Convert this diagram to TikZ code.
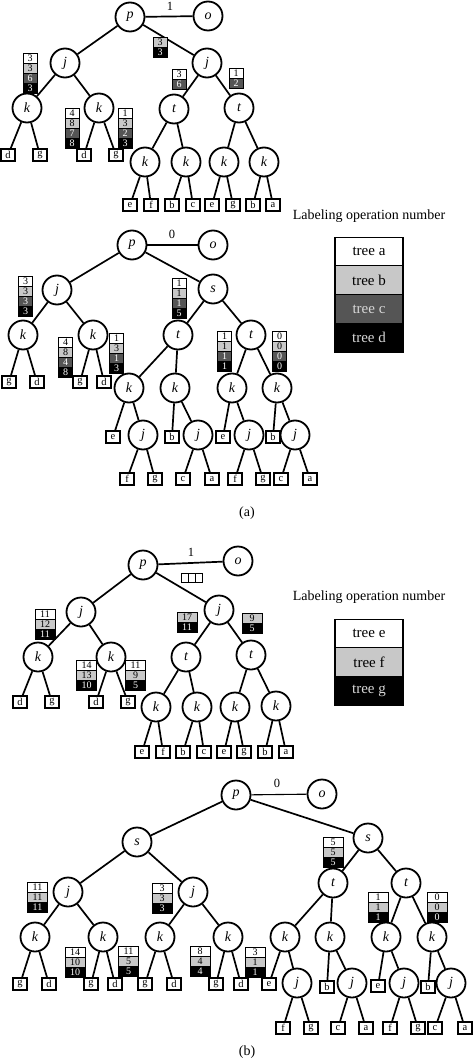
\documentclass[tikz,border=0pt]{standalone}
\usepackage{fontspec}
\setmainfont{Liberation Serif}
\definecolor{lg}{RGB}{200,200,200}
\definecolor{dg}{RGB}{85,85,85}
\definecolor{lgt}{RGB}{215,215,215}
\tikzset{
  vtx/.style={circle, draw, fill=white, line width=1.8pt, minimum size=29pt, inner sep=0pt, font=\fontsize{14}{14}\selectfont\itshape},
  leaf/.style={draw, fill=white, line width=1.3pt, minimum width=14pt, minimum height=12pt, inner sep=0pt, font=\fontsize{10.5}{10.5}\selectfont},
  edge/.style={line width=1.7pt},
  poedge/.style={line width=#1},
  cell/.style={draw, line width=0.8pt, minimum width=#1, minimum height=10pt, inner sep=0pt, font=\fontsize{10}{10}\selectfont},
  cw/.style={fill=white, text=black},
  cl/.style={fill=lg, text=black},
  cd/.style={fill=dg, text=white},
  ck/.style={fill=black, text=white},
  lbl/.style={inner sep=0pt, font=\fontsize{12.5}{12.5}\selectfont},
  captxt/.style={inner sep=0pt, font=\fontsize{14}{14}\selectfont},
  legcell/.style={draw, line width=1.2pt, minimum width=68pt, minimum height=28.7pt, inner sep=0pt, font=\fontsize{15}{15}\selectfont},
}
\newcommand{\cstack}[5]{%
  \foreach [count=\i] \s/\t in {#5} {
    \node[cell=#4, \s] (#1-\i) at (#2, {#3+10*\i-5}) {\t};
  }%
}
\begin{document}
\begin{tikzpicture}[x=1pt, y=-1pt]
\useasboundingbox (0,0) rectangle (474,1059);

% ================= Tree A =================
\node[vtx] (A-p) at (130,17) {p};
\node[vtx] (A-o) at (208,16) {o};
\node[lbl] (A-n) at (170,6) {1};
\node[vtx] (A-j1) at (65,63) {j};
\node[vtx] (A-j2) at (207,63) {j};
\node[vtx] (A-k1) at (27,108) {k};
\node[vtx] (A-k2) at (99,108) {k};
\node[vtx] (A-t1) at (174,109) {t};
\node[vtx] (A-t2) at (239,108) {t};
\node[leaf] (A-l1) at (8,155) {d};
\node[leaf] (A-l2) at (40,155) {g};
\node[leaf] (A-l3) at (84,155) {d};
\node[leaf] (A-l4) at (116,155) {g};
\node[vtx] (A-k3) at (145,162) {k};
\node[vtx] (A-k4) at (186,162) {k};
\node[vtx] (A-k5) at (224,162) {k};
\node[vtx] (A-k6) at (264,162) {k};
\node[leaf] (A-m1) at (130,205) {e};
\node[leaf] (A-m2) at (151,205) {f};
\node[leaf] (A-m3) at (172,205) {b};
\node[leaf] (A-m4) at (193,205) {c};
\node[leaf] (A-m5) at (212,205) {e};
\node[leaf] (A-m6) at (233,205) {g};
\node[leaf] (A-m7) at (253,205) {b};
\node[leaf] (A-m8) at (273,205) {a};
\draw[poedge=1.7pt] (A-p) -- (A-o);
\draw[edge] (A-p) -- (A-j1);
\draw[edge] (A-p) -- (A-j2);
\draw[edge] (A-j1) -- (A-k1);
\draw[edge] (A-j1) -- (A-k2);
\draw[edge] (A-j2) -- (A-t1);
\draw[edge] (A-j2) -- (A-t2);
\draw[edge] (A-k1) -- (A-l1);
\draw[edge] (A-k1) -- (A-l2);
\draw[edge] (A-k2) -- (A-l3);
\draw[edge] (A-k2) -- (A-l4);
\draw[edge] (A-t1) -- (A-k3);
\draw[edge] (A-t1) -- (A-k4);
\draw[edge] (A-t2) -- (A-k5);
\draw[edge] (A-t2) -- (A-k6);
\draw[edge] (A-k3) -- (A-m1);
\draw[edge] (A-k3) -- (A-m2);
\draw[edge] (A-k4) -- (A-m3);
\draw[edge] (A-k4) -- (A-m4);
\draw[edge] (A-k5) -- (A-m5);
\draw[edge] (A-k5) -- (A-m6);
\draw[edge] (A-k6) -- (A-m7);
\draw[edge] (A-k6) -- (A-m8);
\cstack{A-s1}{30}{53}{14pt}{cw/3,cl/3,cd/6,ck/3}
\cstack{A-s2}{160}{37}{14pt}{cl/3,ck/3}
\cstack{A-s3}{72}{108}{14pt}{cw/4,cl/8,cd/7,ck/8}
\cstack{A-s4}{125}{108}{14pt}{cw/1,cl/3,cd/2,ck/3}
\cstack{A-s5}{179}{69}{14pt}{cw/3,cd/6}
\cstack{A-s6}{236}{68}{14pt}{cw/1,cd/2}

% Legend A
\node[captxt] (LA-t) at (369,216) {Labeling operation number};
\node[legcell, fill=white, text=black] (LA-1) at (369,251.5) {tree a};
\node[legcell, fill=lg, text=black] (LA-2) at (369,280.2) {tree b};
\node[legcell, fill=dg, text=lgt] (LA-3) at (369,308.9) {tree c};
\node[legcell, fill=black, text=lgt] (LA-4) at (369,337.6) {tree d};

% ================= Tree B =================
\node[vtx] (B-p) at (132,245) {p};
\node[vtx] (B-o) at (213,245) {o};
\node[lbl] (B-n) at (172,234) {0};
\node[vtx] (B-j) at (57,290) {j};
\node[vtx] (B-s) at (213,289) {s};
\node[vtx] (B-k1) at (23,335) {k};
\node[vtx] (B-k2) at (93,335) {k};
\node[vtx] (B-t1) at (178,335) {t};
\node[vtx] (B-t2) at (251,335) {t};
\node[leaf] (B-l1) at (9,382) {g};
\node[leaf] (B-l2) at (37,382) {d};
\node[leaf] (B-l3) at (80,382) {g};
\node[leaf] (B-l4) at (104,382) {d};
\node[vtx] (B-k3) at (129,388) {k};
\node[vtx] (B-k4) at (175,388) {k};
\node[vtx] (B-k5) at (232,388) {k};
\node[vtx] (B-k6) at (277,388) {k};
\node[leaf] (B-e1) at (113,437) {e};
\node[vtx] (B-j1) at (143,435) {j};
\node[leaf] (B-b1) at (172,437) {b};
\node[vtx] (B-j2) at (198,435) {j};
\node[leaf] (B-e2) at (223,437) {e};
\node[vtx] (B-j3) at (249,435) {j};
\node[leaf] (B-b2) at (273,437) {b};
\node[vtx] (B-j4) at (295,435) {j};
\node[leaf] (B-m1) at (127,479) {f};
\node[leaf] (B-m2) at (155,479) {g};
\node[leaf] (B-m3) at (183,479) {c};
\node[leaf] (B-m4) at (212,479) {a};
\node[leaf] (B-m5) at (235,479) {f};
\node[leaf] (B-m6) at (263,479) {g};
\node[leaf] (B-m7) at (281,479) {c};
\node[leaf] (B-m8) at (310,479) {a};
\draw[poedge=1.1pt] (B-p) -- (B-o);
\draw[edge] (B-p) -- (B-j);
\draw[edge] (B-p) -- (B-s);
\draw[edge] (B-j) -- (B-k1);
\draw[edge] (B-j) -- (B-k2);
\draw[edge] (B-s) -- (B-t1);
\draw[edge] (B-s) -- (B-t2);
\draw[edge] (B-k1) -- (B-l1);
\draw[edge] (B-k1) -- (B-l2);
\draw[edge] (B-k2) -- (B-l3);
\draw[edge] (B-k2) -- (B-l4);
\draw[edge] (B-t1) -- (B-k3);
\draw[edge] (B-t1) -- (B-k4);
\draw[edge] (B-t2) -- (B-k5);
\draw[edge] (B-t2) -- (B-k6);
\draw[edge] (B-k3) -- (B-e1);
\draw[edge] (B-k3) -- (B-j1);
\draw[edge] (B-k4) -- (B-b1);
\draw[edge] (B-k4) -- (B-j2);
\draw[edge] (B-k5) -- (B-e2);
\draw[edge] (B-k5) -- (B-j3);
\draw[edge] (B-k6) -- (B-b2);
\draw[edge] (B-k6) -- (B-j4);
\draw[edge] (B-j1) -- (B-m1);
\draw[edge] (B-j1) -- (B-m2);
\draw[edge] (B-j2) -- (B-m3);
\draw[edge] (B-j2) -- (B-m4);
\draw[edge] (B-j3) -- (B-m5);
\draw[edge] (B-j3) -- (B-m6);
\draw[edge] (B-j4) -- (B-m7);
\draw[edge] (B-j4) -- (B-m8);
\cstack{B-s1}{25.5}{276}{14pt}{cw/3,cl/3,cd/3,ck/3}
\cstack{B-s2}{65.5}{337}{14pt}{cw/4,cl/8,cd/4,ck/8}
\cstack{B-s3}{116.5}{333}{14pt}{cw/1,cl/3,cd/1,ck/3}
\cstack{B-s4}{179}{278}{14pt}{cw/1,cl/1,cd/1,ck/5}
\cstack{B-s5}{224.5}{331}{14pt}{cw/1,cl/1,cd/1,ck/1}
\cstack{B-s6}{279.5}{331}{14pt}{cw/0,cl/0,cd/0,ck/0}

\node[captxt] (capA) at (247,513) {(a)};

% ================= Tree C =================
\node[vtx] (C-p) at (143,565) {p};
\node[vtx] (C-o) at (238,561) {o};
\node[lbl] (C-n) at (191,552) {1};
\node[vtx] (C-j1) at (81,612) {j};
\node[vtx] (C-j2) at (219,610) {j};
\node[vtx] (C-k1) at (38,657) {k};
\node[vtx] (C-k2) at (111,657) {k};
\node[vtx] (C-t1) at (186,657) {t};
\node[vtx] (C-t2) at (251,655) {t};
\node[leaf] (C-l1) at (20,702) {d};
\node[leaf] (C-l2) at (52,702) {g};
\node[leaf] (C-l3) at (96,702) {d};
\node[leaf] (C-l4) at (128,702) {g};
\node[vtx] (C-k3) at (156,707) {k};
\node[vtx] (C-k4) at (197,707) {k};
\node[vtx] (C-k5) at (235,707) {k};
\node[vtx] (C-k6) at (276,706) {k};
\node[leaf] (C-m1) at (142,752) {e};
\node[leaf] (C-m2) at (163,752) {f};
\node[leaf] (C-m3) at (183,752) {b};
\node[leaf] (C-m4) at (204,752) {c};
\node[leaf] (C-m5) at (224,752) {e};
\node[leaf] (C-m6) at (244,752) {g};
\node[leaf] (C-m7) at (265,752) {b};
\node[leaf] (C-m8) at (286,752) {a};
\draw[poedge=1.7pt] (C-p) -- (C-o);
\draw[edge] (C-p) -- (C-j1);
\draw[edge] (C-p) -- (C-j2);
\draw[edge] (C-j1) -- (C-k1);
\draw[edge] (C-j1) -- (C-k2);
\draw[edge] (C-j2) -- (C-t1);
\draw[edge] (C-j2) -- (C-t2);
\draw[edge] (C-k1) -- (C-l1);
\draw[edge] (C-k1) -- (C-l2);
\draw[edge] (C-k2) -- (C-l3);
\draw[edge] (C-k2) -- (C-l4);
\draw[edge] (C-t1) -- (C-k3);
\draw[edge] (C-t1) -- (C-k4);
\draw[edge] (C-t2) -- (C-k5);
\draw[edge] (C-t2) -- (C-k6);
\draw[edge] (C-k3) -- (C-m1);
\draw[edge] (C-k3) -- (C-m2);
\draw[edge] (C-k4) -- (C-m3);
\draw[edge] (C-k4) -- (C-m4);
\draw[edge] (C-k5) -- (C-m5);
\draw[edge] (C-k5) -- (C-m6);
\draw[edge] (C-k6) -- (C-m7);
\draw[edge] (C-k6) -- (C-m8);
\node[cell=7pt, minimum height=9pt, fill=white] (C-b1) at (184.5,578) {};
\node[cell=7pt, minimum height=9pt, fill=white] (C-b2) at (191.5,578) {};
\node[cell=7pt, minimum height=9pt, fill=white] (C-b3) at (198.5,578) {};
\cstack{C-s1}{45}{609}{20pt}{cw/11,cl/12,ck/11}
\cstack{C-s2}{86.5}{660}{20pt}{cw/14,cl/13,ck/10}
\cstack{C-s3}{135.5}{660}{20pt}{cw/11,cl/9,ck/5}
\cstack{C-s4}{187}{612}{20pt}{cl/17,ck/11}
\cstack{C-s5}{252}{613}{20pt}{cl/9,ck/5}

% Legend C
\node[captxt] (LC-t) at (369,597) {Labeling operation number};
\node[legcell, fill=white, text=black] (LC-1) at (369,633.5) {tree e};
\node[legcell, fill=lg, text=black] (LC-2) at (369,662.2) {tree f};
\node[legcell, fill=black, text=lgt] (LC-3) at (369,690.9) {tree g};

% ================= Tree D =================
\node[vtx] (D-p) at (236,795) {p};
\node[vtx] (D-o) at (322,794) {o};
\node[lbl] (D-n) at (277,783) {0};
\node[vtx] (D-s1) at (137,842) {s};
\node[vtx] (D-s2) at (368,838) {s};
\node[vtx] (D-j1) at (68,892) {j};
\node[vtx] (D-j2) at (193,892) {j};
\node[vtx] (D-t1) at (333,883) {t};
\node[vtx] (D-t2) at (406,883) {t};
\node[vtx] (D-k1) at (35,937) {k};
\node[vtx] (D-k2) at (103,937) {k};
\node[vtx] (D-k3) at (160,937) {k};
\node[vtx] (D-k4) at (228,937) {k};
\node[vtx] (D-k5) at (285,937) {k};
\node[vtx] (D-k6) at (330,937) {k};
\node[vtx] (D-k7) at (386,937) {k};
\node[vtx] (D-k8) at (432,937) {k};
\node[leaf] (D-l1) at (20,984) {g};
\node[leaf] (D-l2) at (49,984) {d};
\node[leaf] (D-l3) at (91,984) {g};
\node[leaf] (D-l4) at (115,984) {d};
\node[leaf] (D-l5) at (145,984) {g};
\node[leaf] (D-l6) at (174,984) {d};
\node[leaf] (D-l7) at (216,984) {g};
\node[leaf] (D-l8) at (241,984) {d};
\node[leaf] (D-e1) at (269,984) {e};
\node[vtx] (D-j3) at (297,983) {j};
\node[leaf] (D-b1) at (327,987) {b};
\node[vtx] (D-j4) at (352,983) {j};
\node[leaf] (D-e2) at (378,986) {e};
\node[vtx] (D-j5) at (404,983) {j};
\node[leaf] (D-b2) at (428,987) {b};
\node[vtx] (D-j6) at (451,983) {j};
\node[leaf] (D-m1) at (283,1028) {f};
\node[leaf] (D-m2) at (311,1028) {g};
\node[leaf] (D-m3) at (338,1028) {c};
\node[leaf] (D-m4) at (366,1028) {a};
\node[leaf] (D-m5) at (390,1028) {f};
\node[leaf] (D-m6) at (418,1028) {g};
\node[leaf] (D-m7) at (435,1028) {c};
\node[leaf] (D-m8) at (465,1028) {a};
\draw[poedge=1.1pt] (D-p) -- (D-o);
\draw[edge] (D-p) -- (D-s1);
\draw[edge] (D-p) -- (D-s2);
\draw[edge] (D-s1) -- (D-j1);
\draw[edge] (D-s1) -- (D-j2);
\draw[edge] (D-s2) -- (D-t1);
\draw[edge] (D-s2) -- (D-t2);
\draw[edge] (D-j1) -- (D-k1);
\draw[edge] (D-j1) -- (D-k2);
\draw[edge] (D-j2) -- (D-k3);
\draw[edge] (D-j2) -- (D-k4);
\draw[edge] (D-t1) -- (D-k5);
\draw[edge] (D-t1) -- (D-k6);
\draw[edge] (D-t2) -- (D-k7);
\draw[edge] (D-t2) -- (D-k8);
\draw[edge] (D-k1) -- (D-l1);
\draw[edge] (D-k1) -- (D-l2);
\draw[edge] (D-k2) -- (D-l3);
\draw[edge] (D-k2) -- (D-l4);
\draw[edge] (D-k3) -- (D-l5);
\draw[edge] (D-k3) -- (D-l6);
\draw[edge] (D-k4) -- (D-l7);
\draw[edge] (D-k4) -- (D-l8);
\draw[edge] (D-k5) -- (D-e1);
\draw[edge] (D-k5) -- (D-j3);
\draw[edge] (D-k6) -- (D-b1);
\draw[edge] (D-k6) -- (D-j4);
\draw[edge] (D-k7) -- (D-e2);
\draw[edge] (D-k7) -- (D-j5);
\draw[edge] (D-k8) -- (D-b2);
\draw[edge] (D-k8) -- (D-j6);
\draw[edge] (D-j3) -- (D-m1);
\draw[edge] (D-j3) -- (D-m2);
\draw[edge] (D-j4) -- (D-m3);
\draw[edge] (D-j4) -- (D-m4);
\draw[edge] (D-j5) -- (D-m5);
\draw[edge] (D-j5) -- (D-m6);
\draw[edge] (D-j6) -- (D-m7);
\draw[edge] (D-j6) -- (D-m8);
\cstack{D-s1}{37.5}{882}{20pt}{cw/11,cl/11,ck/11}
\cstack{D-s2}{162}{883}{20pt}{cw/3,cl/3,ck/3}
\cstack{D-s3}{75}{947}{20pt}{cw/14,cl/10,ck/10}
\cstack{D-s4}{128.5}{946}{20pt}{cw/11,cl/5,ck/5}
\cstack{D-s5}{200}{946}{20pt}{cw/8,cl/4,ck/4}
\cstack{D-s6}{255}{947}{20pt}{cw/3,cl/1,ck/1}
\cstack{D-s7}{333}{837}{20pt}{cw/5,cl/5,ck/5}
\cstack{D-s8}{378}{892}{20pt}{cw/1,cl/1,ck/1}
\cstack{D-s9}{437}{892}{20pt}{cw/0,cl/0,ck/0}

\node[captxt] (capB) at (247,1052) {(b)};
\end{tikzpicture}
\end{document}
